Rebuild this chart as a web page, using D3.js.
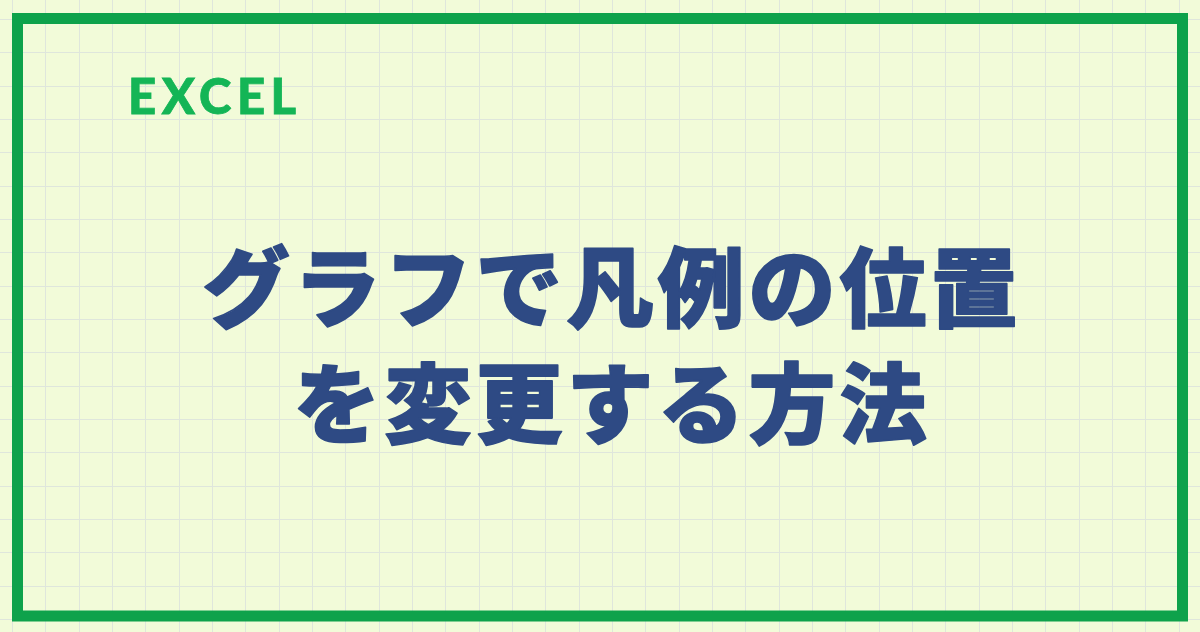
<!DOCTYPE html>
<html>
<head>
<meta charset="utf-8">
<script src="https://cdn.jsdelivr.net/npm/d3@7"></script>
<style>
html,body{margin:0;padding:0;background:#f2fbd9;}
svg{display:block;}
</style>
</head>
<body>
<svg id="c" width="1200" height="632"></svg>
<script>
const categoryLabel = ["EXCEL"];
const titleLines = ["グラフで凡例の位置", "を変更する方法"];
const gridCols = d3.range(0, 37);
const gridRows = d3.range(-1, 19);

const W = 1200, H = 632;
const svg = d3.select("#c");
svg.append("rect").attr("width", W).attr("height", H).attr("fill", "#f2fbd9");

const x = d3.scaleLinear().domain([0, 36]).range([12, 12 + 36 * 33.33]);
const y = d3.scaleLinear().domain([0, 18]).range([19, 19 + 18 * 33.33]);

const g = svg.append("g").attr("stroke", "#dfe6dc").attr("stroke-width", 1);
g.selectAll("line.v").data(gridCols).join("line").attr("class", "v")
  .attr("x1", d => Math.round(x(d)) + 0.5).attr("x2", d => Math.round(x(d)) + 0.5)
  .attr("y1", 0).attr("y2", H);
g.selectAll("line.h").data(gridRows).join("line").attr("class", "h")
  .attr("y1", d => Math.round(y(d)) + 0.5).attr("y2", d => Math.round(y(d)) + 0.5)
  .attr("x1", 0).attr("x2", W);

svg.append("rect").attr("x", 17.5).attr("y", 18.5).attr("width", 1165).attr("height", 597.5)
  .attr("fill", "none").attr("stroke", "#0ea24b").attr("stroke-width", 11);

svg.selectAll("text.lab").data(categoryLabel).join("text").attr("class", "lab")
  .attr("x", 128).attr("y", 114)
  .attr("font-family", "Lato, 'Noto Sans', sans-serif").attr("font-weight", 900)
  .attr("font-size", 49).attr("letter-spacing", 5.5).attr("fill", "#14b556")
  .attr("stroke", "#14b556").attr("stroke-width", 0.8)
  .text(d => d);

const ls = 4;
svg.selectAll("text.title").data(titleLines).join("text").attr("class", "title")
  .attr("x", 610 + ls / 2).attr("y", (d, i) => 321 + i * 116)
  .attr("text-anchor", "middle")
  .attr("font-family", "'Noto Sans CJK JP', sans-serif").attr("font-weight", 900)
  .attr("font-size", 87).attr("letter-spacing", ls).attr("fill", "#2e4a84")
  .attr("stroke", "#2e4a84").attr("stroke-width", 1.6).attr("stroke-linejoin", "round")
  .text(d => d);
</script>
</body>
</html>
